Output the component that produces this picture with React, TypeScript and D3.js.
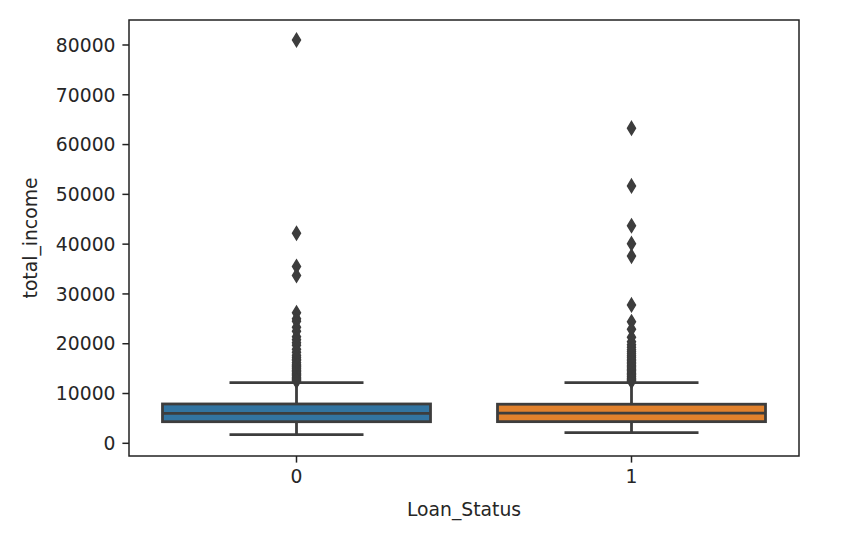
import React, { useEffect, useRef } from 'react';
import * as d3 from 'd3';

// Box statistics
const categories = ['0', '1'];
const boxColors = ['#3274a1', '#e1812c'];
const q1 = [4340, 4350];
const medians = [6030, 6060];
const q3 = [7900, 7850];
const whiskerLow = [1730, 2130];
const whiskerHigh = [12180, 12180];

const outliers0 = [81000, 42200, 35500, 33700, 26200, 25000, 24500, 23300, 22500, 21400, 20800, 20200,
  19700, 18900, 18300, 17700, 17300, 16900, 16700, 16250, 15900, 15600, 15400, 15100, 14900, 14600,
  14400, 14100, 13900, 13700, 13500, 13200, 13000, 12800, 12600, 12450];
const outliers1 = [63300, 51700, 43700, 40100, 37600, 27800, 24400, 22900, 21300, 20400, 19800, 19300,
  18800, 18400, 18000, 17600, 17300, 16900, 16600, 16300, 16000, 15700, 15400, 15100, 14800, 14600,
  14300, 14000, 13800, 13500, 13300, 13000, 12800, 12600, 12400];
const outliers = [outliers0, outliers1];

const yTicks = [0, 10000, 20000, 30000, 40000, 50000, 60000, 70000, 80000];

const W = 852, H = 536;
const left = 129, right = 799, top = 20, bottom = 456;
const gray = '#3d3d3d';
const font = 'DejaVu Sans, sans-serif';
const fs = 18.75;

const App: React.FC = () => {
  const svgRef = useRef<SVGSVGElement>(null);

  useEffect(() => {
    document.body.style.margin = '0';
    if (!svgRef.current) return;
    const svg = d3.select(svgRef.current);
    svg.selectAll('*').remove();

    const x = d3.scaleLinear().domain([-0.5, 1.5]).range([left, right]);
    const y = d3.scaleLinear().domain([-2550, 85020]).range([bottom, top]);
    const g = svg.append('g');
    const boxW = 0.8, capW = 0.4;

    categories.forEach((c, i) => {
      // whiskers
      g.append('line').attr('x1', x(i)).attr('x2', x(i)).attr('y1', y(q1[i])).attr('y2', y(whiskerLow[i]))
        .attr('stroke', gray).attr('stroke-width', 2.8);
      g.append('line').attr('x1', x(i)).attr('x2', x(i)).attr('y1', y(q3[i])).attr('y2', y(whiskerHigh[i]))
        .attr('stroke', gray).attr('stroke-width', 2.8);
      // caps
      [whiskerLow[i], whiskerHigh[i]].forEach(v => {
        g.append('line').attr('x1', x(i - capW / 2)).attr('x2', x(i + capW / 2)).attr('y1', y(v)).attr('y2', y(v))
          .attr('stroke', gray).attr('stroke-width', 2.8);
      });
      // box
      g.append('rect').attr('x', x(i - boxW / 2)).attr('width', x(i + boxW / 2) - x(i - boxW / 2))
        .attr('y', y(q3[i])).attr('height', y(q1[i]) - y(q3[i]))
        .attr('fill', boxColors[i]).attr('stroke', gray).attr('stroke-width', 2.8);
      // median
      g.append('line').attr('x1', x(i - boxW / 2)).attr('x2', x(i + boxW / 2)).attr('y1', y(medians[i])).attr('y2', y(medians[i]))
        .attr('stroke', gray).attr('stroke-width', 2.8);
      // fliers (thin diamond)
      const hh = 6.6, hw = 4;
      outliers[i].forEach(v => {
        const cx = x(i), cy = y(v);
        g.append('path').attr('d', `M${cx},${cy - hh}L${cx + hw},${cy}L${cx},${cy + hh}L${cx - hw},${cy}Z`)
          .attr('fill', gray).attr('stroke', gray).attr('stroke-width', 1.5);
      });
    });

    // frame
    g.append('rect').attr('x', left).attr('y', top).attr('width', right - left).attr('height', bottom - top)
      .attr('fill', 'none').attr('stroke', '#222').attr('stroke-width', 1.5);

    // y ticks
    yTicks.forEach(t => {
      g.append('line').attr('x1', left - 6.6).attr('x2', left).attr('y1', y(t)).attr('y2', y(t))
        .attr('stroke', '#222').attr('stroke-width', 1.5);
      g.append('text').attr('x', left - 13.5).attr('y', y(t)).attr('dy', '0.36em')
        .attr('text-anchor', 'end').attr('font-family', font).attr('font-size', fs).attr('fill', '#262626')
        .text(String(t));
    });
    // x ticks
    categories.forEach((c, i) => {
      g.append('line').attr('x1', x(i)).attr('x2', x(i)).attr('y1', bottom).attr('y2', bottom + 6.6)
        .attr('stroke', '#222').attr('stroke-width', 1.5);
      g.append('text').attr('x', x(i)).attr('y', 483).attr('text-anchor', 'middle')
        .attr('font-family', font).attr('font-size', fs).attr('fill', '#262626').text(c);
    });

    // axis labels
    g.append('text').attr('x', (left + right) / 2).attr('y', 516).attr('text-anchor', 'middle')
      .attr('font-family', font).attr('font-size', fs).attr('fill', '#262626').text('Loan_Status');
    g.append('text').attr('transform', `translate(37,${(top + bottom) / 2}) rotate(-90)`).attr('text-anchor', 'middle')
      .attr('font-family', font).attr('font-size', fs).attr('fill', '#262626').text('total_income');
  }, []);

  return <svg ref={svgRef} width={W} height={H} style={{ display: 'block', background: '#fff' }} />;
};

export default App;
